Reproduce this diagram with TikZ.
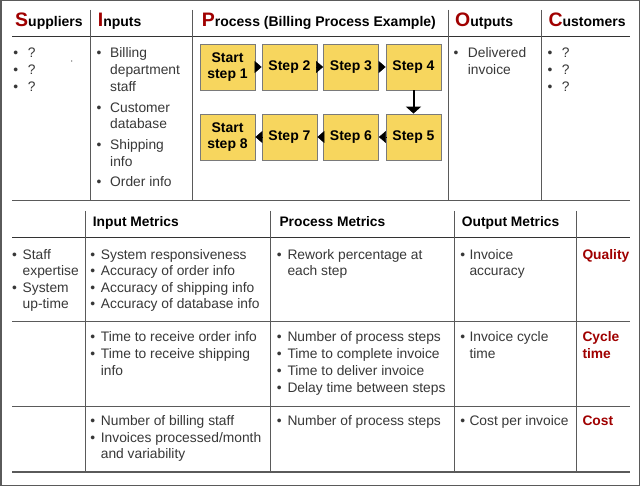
\documentclass[tikz,border=0pt]{standalone}
\usepackage{fontspec}
\setmainfont{Liberation Sans}
\usetikzlibrary{arrows.meta}
\definecolor{boxfill}{HTML}{F7D65E}
\definecolor{boxline}{HTML}{7A7A7A}
\definecolor{dred}{HTML}{A00000}
\definecolor{txt}{HTML}{383838}
\definecolor{rulec}{HTML}{5A5A5A}
\newcommand\redcap[1]{{\fontsize{19.5}{20}\selectfont\color{dred}#1}}
\begin{document}
\begin{tikzpicture}[x=1pt,y=-1pt,
  hd/.style={anchor=base west, inner sep=0pt, font=\fontsize{14}{16}\bfseries\selectfont},
  mh/.style={anchor=base west, inner sep=0pt, font=\fontsize{13.8}{16}\bfseries\selectfont},
  rl/.style={anchor=base west, inner sep=0pt, text=dred, font=\fontsize{13.8}{16}\bfseries\selectfont},
  body/.style={anchor=base west, inner sep=0pt, text=txt, font=\fontsize{13.8}{16.6}\selectfont},
  bul/.style={anchor=base, inner sep=0pt, text=txt, font=\fontsize{13.8}{16.6}\selectfont},
  stepbox/.style={draw=boxline, fill=boxfill, line width=0.8pt, minimum width=55pt, minimum height=46pt, inner sep=0pt, align=center, font=\fontsize{14}{16.7}\bfseries\selectfont},
  harrow/.style={-{Triangle[length=7pt,width=12pt]}, line width=0.5pt},
  varrow/.style={-{Triangle[length=7pt,width=15pt]}, line width=2pt},
  thin/.style={draw=black!80, line width=0.9pt},
  vsep/.style={draw=rulec, line width=1pt},
  hsep/.style={draw=rulec, line width=1.6pt}
]
\useasboundingbox (0,0) rectangle (640,486);
\fill[white] (0,0) rectangle (640,486);
\draw[draw=rulec, line width=1.5pt] (0.75,0.75) rectangle (639.25,485.25);

% ---------- top section rules ----------
\draw[thin] (12,36) -- (630,36);
\foreach \x in {90,192,448,541} \draw[vsep] (\x,10) -- (\x,200);
\draw[hsep] (12,200.5) -- (630,200.5);

% ---------- top headers ----------
\node[hd] (hS) at (15,27) {\redcap{S}uppliers};
\node[hd] (hI) at (97.7,27) {\redcap{I}nputs};
\node[hd] (hP) at (201.7,27) {\redcap{P}rocess (Billing Process Example)};
\node[hd] (hO) at (455,27) {\redcap{O}utputs};
\node[hd] (hC) at (548.3,27) {\redcap{C}ustomers};

% suppliers
\node[bul] (sb1) at (15.7,58) {\textbullet};
\node[body] (st1) at (27.7,58) {?};
\node[bul] (sb2) at (15.7,75) {\textbullet};
\node[body] (st2) at (27.7,75) {?};
\node[bul] (sb3) at (15.7,92) {\textbullet};
\node[body] (st3) at (27.7,92) {?};
\fill[txt] (71.7,61) circle (0.6);

% inputs
\node[bul] (ib1) at (99,58) {\textbullet};
\node[body] (it1) at (110,58) {Billing};
\node[body] (it1b) at (110,74.8) {department};
\node[body] (it1c) at (110,91.3) {staff};
\node[bul] (ib2) at (99,112.2) {\textbullet};
\node[body] (it2) at (110,112.2) {Customer};
\node[body] (it2b) at (110,128.7) {database};
\node[bul] (ib3) at (99,150) {\textbullet};
\node[body] (it3) at (110,150) {Shipping};
\node[body] (it3b) at (110,166.4) {info};
\node[bul] (ib4) at (99,187) {\textbullet};
\node[body] (it4) at (110,187) {Order info};

% outputs
\node[bul] (ob1) at (456,58) {\textbullet};
\node[body] (ot1) at (467.7,58) {Delivered};
\node[body] (ot1b) at (467.7,74.8) {invoice};

% customers
\node[bul] (cb1) at (550,58) {\textbullet};
\node[body] (ct1) at (561.7,58) {?};
\node[bul] (cb2) at (550,75) {\textbullet};
\node[body] (ct2) at (561.7,75) {?};
\node[bul] (cb3) at (550,92) {\textbullet};
\node[body] (ct3) at (561.7,92) {?};

% ---------- process steps ----------
\node[stepbox] (s1) at (227.5,67) {Start\\step 1};
\node[stepbox] (s2) at (289.5,67) {Step 2};
\node[stepbox] (s3) at (351,67) {Step 3};
\node[stepbox] (s4) at (413.5,67) {Step 4};
\node[stepbox] (s5) at (413.5,137) {Step 5};
\node[stepbox] (s6) at (351,137) {Step 6};
\node[stepbox] (s7) at (289.5,137) {Step 7};
\node[stepbox] (s8) at (227.5,137) {Start\\step 8};
\draw[harrow] (s1) -- (s2);
\draw[harrow] (s2) -- (s3);
\draw[harrow] (s3) -- (s4);
\draw[varrow] (s4) -- (s5);
\draw[harrow] (s5) -- (s6);
\draw[harrow] (s6) -- (s7);
\draw[harrow] (s7) -- (s8);

% ---------- bottom table rules ----------
\draw[thin] (12,237) -- (630,237);
\foreach \x in {85.3,270,454,576} \draw[vsep] (\x,211) -- (\x,472);
\draw[vsep] (12,322) -- (630,322);
\draw[vsep] (12,406) -- (630,406);
\draw[hsep] (12,472) -- (630,472);

% headers
\node[mh] (mI) at (92.7,227) {Input Metrics};
\node[mh] (mP) at (279.3,227) {Process Metrics};
\node[mh] (mO) at (461.7,227) {Output Metrics};

% row 1
\node[bul] (lb1) at (14.5,259.5) {\textbullet};
\node[body] (lt1) at (22.5,259.5) {Staff};
\node[body] (lt1b) at (22.5,276) {expertise};
\node[bul] (lb2) at (14.5,292.5) {\textbullet};
\node[body] (lt2) at (22.5,292.5) {System};
\node[body] (lt2b) at (22.5,309) {up-time};

\node[bul] (a1) at (92.7,259.5) {\textbullet};
\node[body] (a1t) at (100.7,259.5) {System responsiveness};
\node[bul] (a2) at (92.7,276) {\textbullet};
\node[body] (a2t) at (100.7,276) {Accuracy of order info};
\node[bul] (a3) at (92.7,292.5) {\textbullet};
\node[body] (a3t) at (100.7,292.5) {Accuracy of shipping info};
\node[bul] (a4) at (92.7,309) {\textbullet};
\node[body] (a4t) at (100.7,309) {Accuracy of database info};

\node[bul] (p1) at (279.3,259.5) {\textbullet};
\node[body] (p1t) at (287.3,259.5) {Rework percentage at};
\node[body] (p1u) at (287.3,276) {each step};

\node[bul] (o1) at (462.7,259.5) {\textbullet};
\node[body] (o1t) at (469.3,259.5) {Invoice};
\node[body] (o1u) at (469.3,276) {accuracy};

\node[rl] (q) at (582.3,259.5) {Quality};

% row 2
\node[bul] (b1) at (92.7,341.8) {\textbullet};
\node[body] (b1t) at (100.7,341.8) {Time to receive order info};
\node[bul] (b2) at (92.7,358.6) {\textbullet};
\node[body] (b2t) at (100.7,358.6) {Time to receive shipping};
\node[body] (b2u) at (100.7,375.4) {info};

\node[bul] (c1) at (279.3,341.8) {\textbullet};
\node[body] (c1t) at (287.3,341.8) {Number of process steps};
\node[bul] (c2) at (279.3,358.6) {\textbullet};
\node[body] (c2t) at (287.3,358.6) {Time to complete invoice};
\node[bul] (c3) at (279.3,375.4) {\textbullet};
\node[body] (c3t) at (287.3,375.4) {Time to deliver invoice};
\node[bul] (c4) at (279.3,392.4) {\textbullet};
\node[body] (c4t) at (287.3,392.4) {Delay time between steps};

\node[bul] (d1) at (462.7,341.8) {\textbullet};
\node[body] (d1t) at (469.3,341.8) {Invoice cycle};
\node[body] (d1u) at (469.3,358.6) {time};

\node[rl] (cy) at (582.3,341.8) {Cycle};
\node[rl] (cyb) at (582.3,358.6) {time};

% row 3
\node[bul] (e1) at (92.7,425.5) {\textbullet};
\node[body] (e1t) at (100.7,425.5) {Number of billing staff};
\node[bul] (e2) at (92.7,442.2) {\textbullet};
\node[body] (e2t) at (100.7,442.2) {Invoices processed/month};
\node[body] (e2u) at (100.7,458.9) {and variability};

\node[bul] (f1) at (279.3,425.5) {\textbullet};
\node[body] (f1t) at (287.3,425.5) {Number of process steps};

\node[bul] (g1) at (462.7,425.5) {\textbullet};
\node[body] (g1t) at (469.3,425.5) {Cost per invoice};

\node[rl] (co) at (582.3,425.5) {Cost};
\end{tikzpicture}
\end{document}
